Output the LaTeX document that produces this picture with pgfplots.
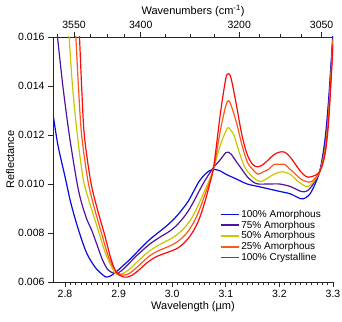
\documentclass[border=0pt]{standalone}
\usepackage{fontspec}
\setmainfont{Liberation Sans}
\usepackage{pgfplots}
\pgfplotsset{compat=1.18}

\definecolor{cBlue}{RGB}{10,10,230}
\definecolor{cPurple}{RGB}{80,20,160}
\definecolor{cYellow}{RGB}{200,200,0}
\definecolor{cOrange}{RGB}{255,85,30}
\definecolor{cRed}{RGB}{250,10,10}

\begin{document}
\begin{tikzpicture}
\pgfplotsset{
  every axis/.append style={
    scale only axis, width=280pt, height=245pt,
    xmin=2.7776, xmax=3.30, ymin=0.006, ymax=0.016,
    axis line style={line width=0.8pt, black!85},
    tick style={line width=0.7pt, black!85},
    tick align=outside,
    major tick length=5pt, minor tick length=3pt,
    tick label style={font=\fontsize{10.5}{12}\selectfont},
    label style={font=\fontsize{11}{13}\selectfont},
    /pgf/number format/assume math mode=true,
  },
  curve/.style={line width=1.2pt, smooth},
}
% top axis: wavenumbers
\begin{axis}[
  axis x line*=top, axis y line=none,
  xtick={2.8169,2.9412,3.1250,3.2787},
  xticklabels={3550,3400,3200,3050},
  minor xtick={2.7858,2.8480,2.8790,2.9101,2.9871,3.0331,3.0790,3.1634,3.2019,3.2403},
  xlabel={Wavenumbers (cm\textsuperscript{-1})},
  xlabel style={yshift=-3pt},
]
\end{axis}
% main axis: wavelength
\begin{axis}[
  axis x line*=bottom, axis y line*=left,
  xtick={2.8,2.9,3.0,3.1,3.2,3.3},
  minor x tick num=9,
  ytick={0.006,0.008,0.010,0.012,0.014,0.016},
  scaled y ticks=false,
  xticklabel style={/pgf/number format/.cd, fixed, fixed zerofill, precision=1},
  yticklabel style={/pgf/number format/.cd, fixed, fixed zerofill, precision=3},
  xlabel={Wavelength (µm)},
  ylabel={Reflectance},
  xlabel style={yshift=3pt},
  ylabel style={yshift=-3pt},
  legend style={draw=none, fill=none, at={(0.975,0.065)}, anchor=south east,
    font=\fontsize{10}{10}\selectfont, row sep=-2pt},
  legend cell align=left,
  legend image code/.code={\draw[#1, line width=1.6pt] (0pt,0pt) -- (18pt,0pt);},
]
\addplot[cBlue, curve] coordinates {
(2.778,0.0128) (2.785,0.0118) (2.79,0.01125) (2.80,0.0103) (2.81,0.0093)
(2.82,0.0085) (2.83,0.0078) (2.84,0.0072) (2.85,0.0068) (2.86,0.0065)
(2.87,0.0063) (2.877,0.0062) (2.885,0.00625) (2.893,0.00637) (2.90,0.0065)
(2.91,0.0067) (2.92,0.0069) (2.93,0.00712) (2.94,0.00735) (2.95,0.00757)
(2.96,0.00777) (2.97,0.00795) (2.98,0.00812) (2.99,0.0083) (3.00,0.0085)
(3.01,0.00873) (3.02,0.0090) (3.03,0.0093) (3.04,0.0097) (3.05,0.0101)
(3.06,0.01037) (3.07,0.01055) (3.078,0.0106) (3.09,0.01053) (3.10,0.0104)
(3.12,0.0102) (3.14,0.0100) (3.16,0.0099) (3.18,0.0098) (3.20,0.0097)
(3.22,0.0096) (3.24,0.0094) (3.25,0.00945) (3.26,0.0097) (3.275,0.0105)
(3.285,0.0118) (3.292,0.0135) (3.30,0.0162)
};
\addlegendentry{100\% Amorphous}
\addplot[cPurple, curve] coordinates {
(2.782,0.0168) (2.786,0.0160) (2.796,0.0140) (2.808,0.0120) (2.822,0.0101)
(2.83,0.0093) (2.84,0.0086) (2.85,0.0081) (2.86,0.0075) (2.87,0.0069)
(2.88,0.0065) (2.89,0.00637) (2.90,0.00638) (2.91,0.00655) (2.92,0.00677)
(2.93,0.0070) (2.94,0.0072) (2.95,0.0074) (2.96,0.00758) (2.97,0.00773)
(2.98,0.00787) (2.99,0.0080) (3.00,0.00815) (3.01,0.00835) (3.02,0.0086)
(3.03,0.0089) (3.04,0.00928) (3.05,0.0097) (3.06,0.0101) (3.07,0.01045)
(3.078,0.0107) (3.09,0.0110) (3.10,0.01128) (3.105,0.0113) (3.11,0.01122)
(3.12,0.0109) (3.13,0.0106) (3.14,0.0103) (3.15,0.0101) (3.16,0.0100)
(3.18,0.0100) (3.20,0.0100) (3.22,0.0099) (3.24,0.0097) (3.25,0.0097)
(3.26,0.0099) (3.275,0.0105) (3.285,0.0116) (3.292,0.0132) (3.30,0.0160)
};
\addlegendentry{75\% Amorphous}
\addplot[cYellow, curve] coordinates {
(2.805,0.0166) (2.807,0.0162) (2.814,0.0140) (2.823,0.0120) (2.834,0.0102)
(2.845,0.0093) (2.855,0.0086) (2.865,0.0079) (2.875,0.0072) (2.885,0.0067)
(2.893,0.00637) (2.90,0.0063) (2.91,0.00637) (2.92,0.00652) (2.93,0.00672)
(2.94,0.00693) (2.95,0.00713) (2.96,0.0073) (2.97,0.00745) (2.98,0.00757)
(2.99,0.00768) (3.00,0.0078) (3.01,0.00795) (3.02,0.00815) (3.03,0.0084)
(3.04,0.00875) (3.05,0.0092) (3.06,0.0097) (3.07,0.0102) (3.078,0.0107)
(3.09,0.0116) (3.10,0.01215) (3.105,0.0123) (3.115,0.0120) (3.125,0.0113)
(3.135,0.0107) (3.145,0.0104) (3.155,0.0102) (3.165,0.0101) (3.175,0.0102)
(3.19,0.0104) (3.205,0.0105) (3.22,0.0104) (3.235,0.0101) (3.25,0.0099)
(3.26,0.0100) (3.275,0.0105) (3.285,0.0114) (3.292,0.0129) (3.30,0.0159)
};
\addlegendentry{50\% Amorphous}
\addplot[cOrange, curve] coordinates {
(2.818,0.0166) (2.820,0.0161) (2.825,0.0140) (2.831,0.0120) (2.843,0.0101)
(2.855,0.0090) (2.868,0.0080) (2.88,0.0071) (2.89,0.0066) (2.90,0.00635)
(2.91,0.00628) (2.92,0.00635) (2.93,0.00652) (2.94,0.00672) (2.95,0.00692)
(2.96,0.0071) (2.97,0.00723) (2.98,0.00733) (2.99,0.00742) (3.00,0.00752)
(3.01,0.00765) (3.02,0.00783) (3.03,0.00808) (3.04,0.00843) (3.05,0.0089)
(3.06,0.0095) (3.07,0.0101) (3.078,0.0107) (3.09,0.0122) (3.10,0.0132)
(3.105,0.0134) (3.11,0.0132) (3.12,0.0125) (3.13,0.0116) (3.14,0.0109)
(3.15,0.0106) (3.16,0.0104) (3.17,0.0105) (3.18,0.0106) (3.19,0.0108)
(3.20,0.0108) (3.21,0.0108) (3.22,0.0106) (3.23,0.0104) (3.24,0.0102)
(3.25,0.0101) (3.26,0.0101) (3.275,0.0105) (3.285,0.0113) (3.292,0.0128)
(3.30,0.0158)
};
\addlegendentry{25\% Amorphous}
\addplot[cRed, curve] coordinates {
(2.825,0.0166) (2.827,0.0160) (2.831,0.0140) (2.836,0.0120) (2.848,0.0101)
(2.86,0.0090) (2.873,0.0080) (2.885,0.0070) (2.893,0.0065) (2.90,0.0063)
(2.91,0.0062) (2.92,0.00622) (2.93,0.00635) (2.94,0.00653) (2.95,0.00673)
(2.96,0.0069) (2.97,0.00703) (2.98,0.00712) (2.99,0.0072) (3.00,0.00728)
(3.01,0.00738) (3.02,0.00755) (3.03,0.00778) (3.04,0.0081) (3.05,0.00855)
(3.06,0.0092) (3.07,0.0100) (3.078,0.0108) (3.09,0.0129) (3.10,0.0143)
(3.105,0.0145) (3.11,0.0143) (3.12,0.0132) (3.13,0.0120) (3.14,0.0112)
(3.15,0.0108) (3.16,0.0107) (3.17,0.0108) (3.18,0.0110) (3.19,0.0112)
(3.20,0.0113) (3.21,0.0113) (3.22,0.0111) (3.23,0.0108) (3.24,0.0105)
(3.25,0.0103) (3.26,0.0103) (3.275,0.0105) (3.285,0.0112) (3.292,0.0126)
(3.30,0.0157)
};
\addlegendentry{100\% Crystalline}
\end{axis}
\pgfresetboundingbox
\path[use as bounding box] (-53pt,-39pt) rectangle (289pt,282pt);
\end{tikzpicture}
\end{document}
